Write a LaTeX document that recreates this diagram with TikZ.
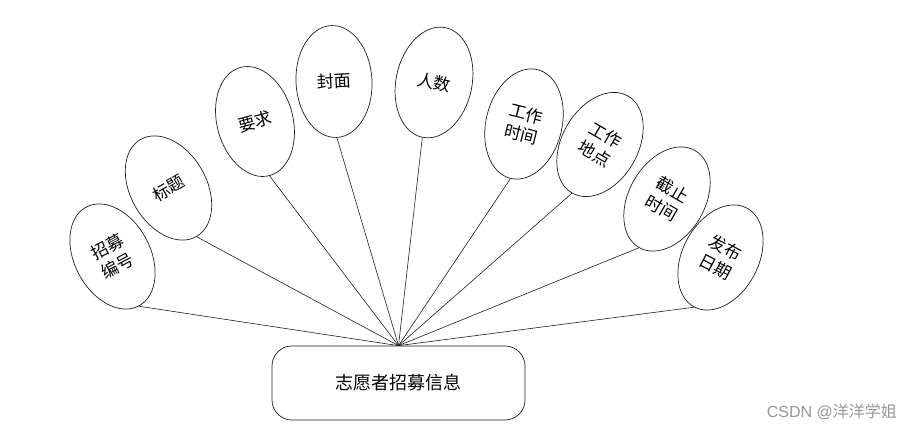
\documentclass[tikz,border=0pt]{standalone}
\usepackage{fontspec}
\usepackage{tikz}
\usetikzlibrary{shapes.geometric}
\newfontfamily\cjk{Noto Sans CJK SC}
\newfontfamily\lat{Liberation Sans}
\definecolor{linegray}{RGB}{30,30,30}
\definecolor{markgray}{RGB}{150,150,150}
\tikzset{
  attr/.style={ellipse, draw=linegray, line width=0.7pt, inner sep=0pt,
    minimum width=76pt, minimum height=112pt, align=center,
    font=\cjk\fontsize{17}{21}\selectfont},
  entity/.style={rectangle, rounded corners=20pt, draw=linegray, line width=0.7pt,
    minimum width=253pt, minimum height=74pt, font=\cjk\fontsize{18}{22}\selectfont},
  link/.style={draw=linegray, line width=0.6pt}
}
\begin{document}
\begin{tikzpicture}[x=1pt, y=-1pt]
  \useasboundingbox (0,0) rectangle (913,430);
  % entity
  \node[entity] (info) at (398.5,383) {志愿者招募信息};
  % attributes
  \node[attr, rotate=28]  (num)   at (112.5,256.5) {招募\\编号};
  \node[attr, rotate=30]  (title) at (168.5,188)   {标题};
  \node[attr, rotate=15]  (req)   at (255,121.5)   {要求};
  \node[attr, rotate=3]   (cover) at (334,81.5)    {封面};
  \node[attr, rotate=-12] (count) at (434,82.5)    {人数};
  \node[attr, rotate=-14] (wtime) at (524,124)     {工作\\时间};
  \node[attr, rotate=-30] (place) at (600,144.5)   {工作\\地点};
  \node[attr, rotate=-30] (dead)  at (667,199)     {截止\\时间};
  \node[attr, rotate=-28] (pub)   at (720.5,257.5) {发布\\日期};
  % connectors
  \foreach \a in {num,title,req,cover,count,wtime,place,dead,pub}
    \draw[link] (info.north) -- (\a.south);
  % watermark
  \node[anchor=east, text=markgray, inner sep=0pt, font=\fontsize{16}{18}\selectfont]
    (mark) at (897,412) {\lat CSDN @\cjk 洋洋学姐};
\end{tikzpicture}
\end{document}
